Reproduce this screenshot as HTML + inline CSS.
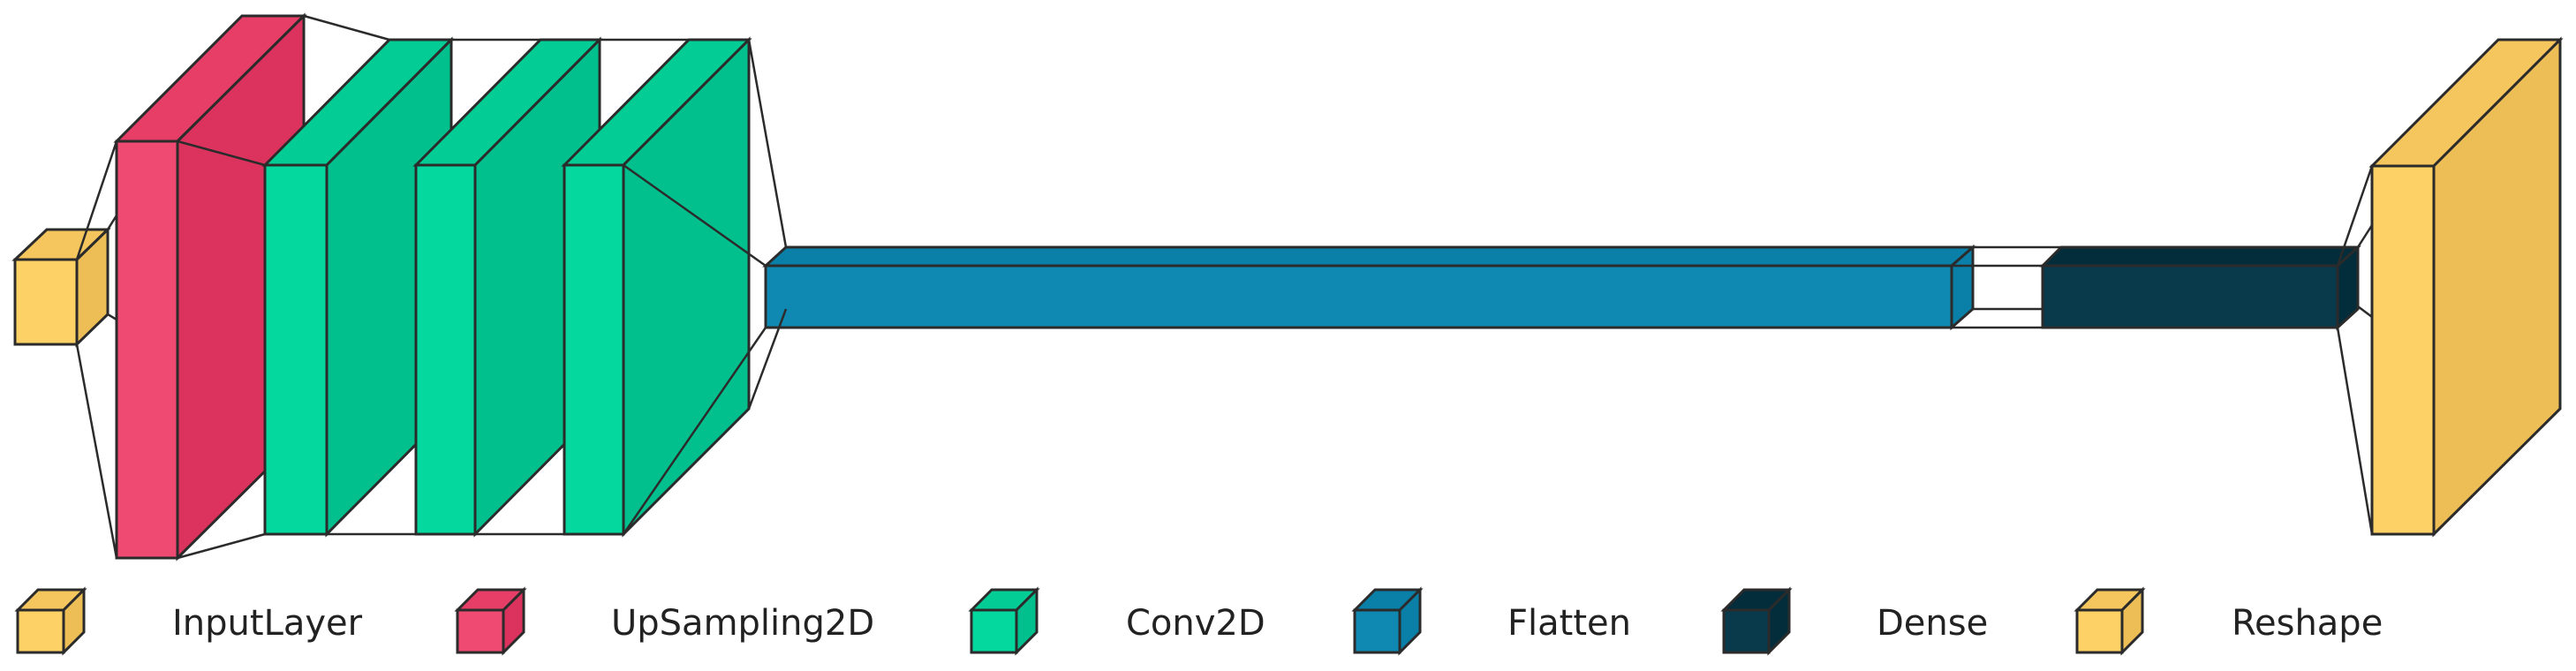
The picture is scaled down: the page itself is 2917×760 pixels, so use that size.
<!DOCTYPE html>
<html><head><meta charset="utf-8"><style>html,body{margin:0;padding:0;background:#fff}svg{display:block}</style></head>
<body>
<svg width="2917" height="760" viewBox="0 0 2917 760" xmlns="http://www.w3.org/2000/svg" stroke="#2b2b2b" stroke-width="3" stroke-linejoin="miter">
<!-- Input cube -->
<g>
<polygon points="17,294 53,260 122,260 87,294" fill="#f5c65d"/>
<polygon points="87,294 122,260 122,356 87,390" fill="#ecbe55"/>
<rect x="17" y="294" width="70" height="96" fill="#fdd166"/>
</g>
<!-- UpSampling -->
<g>
<polygon points="132,160 274,18 344,18 201,160" fill="#e73e67"/>
<polygon points="201,160 344,18 344,490 201,632" fill="#dc335e"/>
<rect x="132" y="160" width="69" height="472" fill="#ef4a72"/>
</g>
<!-- Conv layers -->
<g>
<polygon points="300,187 441,45 511,45 370,187" fill="#03cc94"/>
<polygon points="370,187 511,45 511,463 370,605" fill="#02c08d"/>
<rect x="300" y="187" width="70" height="418" fill="#05d89f"/>
<polygon points="471,187 612,45 679,45 538,187" fill="#03cc94"/>
<polygon points="538,187 679,45 679,463 538,605" fill="#02c08d"/>
<rect x="471" y="187" width="67" height="418" fill="#05d89f"/>
<polygon points="639,187 780,45 848,45 706,187" fill="#03cc94"/>
<polygon points="706,187 848,45 848,463 706,605" fill="#02c08d"/>
<rect x="639" y="187" width="67" height="418" fill="#05d89f"/>
</g>
<!-- Flatten -->
<g>
<polygon points="867,301 890,280 2234,280 2210,301" fill="#0a7fa8"/>
<polygon points="2210,301 2234,280 2234,350 2210,371" fill="#0a7fa8"/>
<rect x="867" y="301" width="1343" height="70" fill="#1089b2"/>
</g>
<!-- Dense -->
<g>
<polygon points="2313,301 2334,280 2670,280 2647,301" fill="#042d3c"/>
<polygon points="2647,301 2670,280 2670,350 2647,371" fill="#042d3c"/>
<rect x="2313" y="301" width="334" height="70" fill="#093a4b"/>
</g>
<!-- Reshape -->
<g>
<polygon points="2686,188 2829,45 2899,45 2756,188" fill="#f5c65d"/>
<polygon points="2756,188 2899,45 2899,463 2756,605" fill="#ecbe55"/>
<rect x="2686" y="188" width="70" height="417" fill="#fdd166"/>
</g>
<!-- connectors -->
<g stroke-width="2.5" fill="none">
<line x1="87" y1="294" x2="132" y2="160"/>
<line x1="87" y1="390" x2="132" y2="632"/>
<line x1="122" y1="356" x2="132" y2="362"/>
<line x1="122" y1="260" x2="132" y2="244"/>
<line x1="344" y1="18" x2="441" y2="45"/>
<line x1="201" y1="160" x2="300" y2="187"/>
<line x1="201" y1="632" x2="300" y2="605"/>
<line x1="511" y1="45" x2="612" y2="45"/>
<line x1="370" y1="605" x2="471" y2="605"/>
<line x1="679" y1="45" x2="780" y2="45"/>
<line x1="538" y1="605" x2="639" y2="605"/>
<line x1="848" y1="45" x2="890" y2="280"/>
<line x1="706" y1="187" x2="867" y2="301"/>
<line x1="706" y1="605" x2="867" y2="371"/>
<line x1="848" y1="463" x2="890" y2="350"/>
<line x1="2234" y1="280" x2="2334" y2="280"/>
<line x1="2210" y1="301" x2="2313" y2="301"/>
<line x1="2234" y1="350" x2="2313" y2="350"/>
<line x1="2210" y1="371" x2="2313" y2="371"/>
<line x1="2647" y1="301" x2="2686" y2="188"/>
<line x1="2647" y1="371" x2="2686" y2="605"/>
<line x1="2670" y1="280" x2="2686" y2="255"/>
<line x1="2670" y1="347" x2="2686" y2="359"/>
</g>
<!-- Legend -->
<g>
<polygon points="20,691 43,668 95,668 72,691" fill="#f5c65d"/><polygon points="72,691 95,668 95,716 72,739" fill="#ecbe55"/><rect x="20" y="691" width="52" height="48" fill="#fdd166"/>
<polygon points="518,691 541,668 593,668 570,691" fill="#e73e67"/><polygon points="570,691 593,668 593,716 570,739" fill="#dc335e"/><rect x="518" y="691" width="52" height="48" fill="#ef4a72"/>
<polygon points="1100,691 1123,668 1174,668 1151,691" fill="#03cc94"/><polygon points="1151,691 1174,668 1174,716 1151,739" fill="#02c08d"/><rect x="1100" y="691" width="51" height="48" fill="#05d89f"/>
<polygon points="1534,691 1557,668 1608,668 1585,691" fill="#0a7fa8"/><polygon points="1585,691 1608,668 1608,716 1585,739" fill="#0a7fa8"/><rect x="1534" y="691" width="51" height="48" fill="#1089b2"/>
<polygon points="1952,691 1975,668 2026,668 2003,691" fill="#042d3c"/><polygon points="2003,691 2026,668 2026,716 2003,739" fill="#042d3c"/><rect x="1952" y="691" width="51" height="48" fill="#093a4b"/>
<polygon points="2352,691 2375,668 2426,668 2403,691" fill="#f5c65d"/><polygon points="2403,691 2426,668 2426,716 2403,739" fill="#ecbe55"/><rect x="2352" y="691" width="51" height="48" fill="#fdd166"/>
</g>
<g stroke="none" fill="#222" font-family="'DejaVu Sans','Liberation Sans',sans-serif" font-size="40">
<text x="195" y="719">InputLayer</text>
<text x="692" y="719">UpSampling2D</text>
<text x="1275" y="719">Conv2D</text>
<text x="1707" y="719">Flatten</text>
<text x="2125" y="719">Dense</text>
<text x="2527" y="719">Reshape</text>
</g>
</svg>
</body></html>
